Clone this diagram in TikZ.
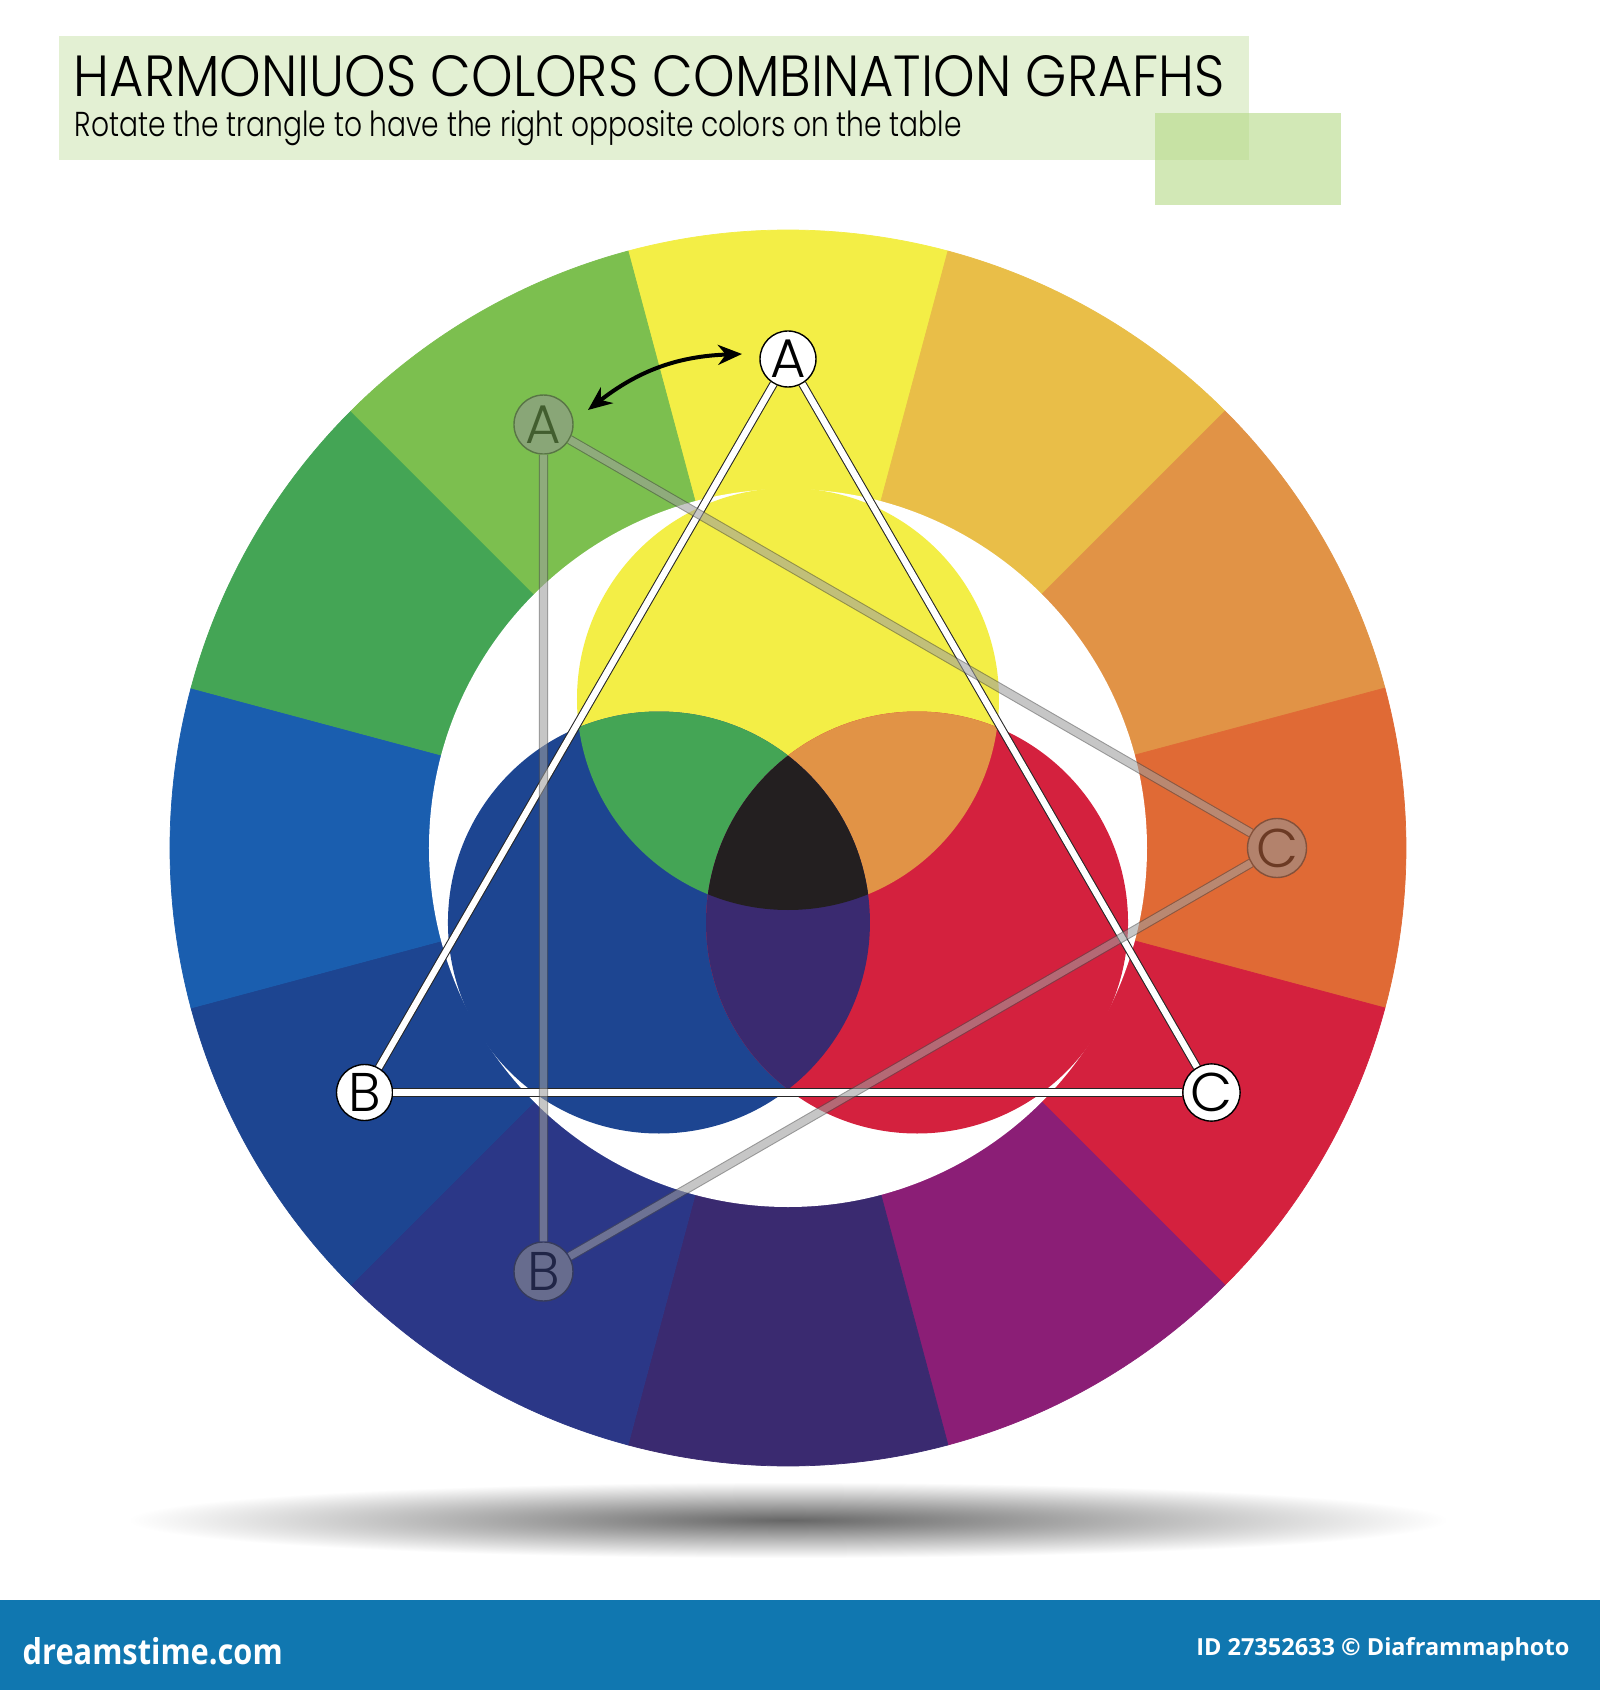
\documentclass[tikz,border=0pt]{standalone}
\usepackage{fontspec}
\usepackage{graphicx}
\setmainfont{Poppins Light}
\newfontfamily\bannerfont{Open Sans}
\usetikzlibrary{arrows.meta}

\definecolor{wyellow}{RGB}{243,238,70}
\definecolor{wyelloworange}{RGB}{233,190,72}
\definecolor{worange}{RGB}{225,147,70}
\definecolor{wredorange}{RGB}{224,106,53}
\definecolor{wred}{RGB}{212,33,62}
\definecolor{wredviolet}{RGB}{139,30,118}
\definecolor{wviolet}{RGB}{58,42,112}
\definecolor{wblueviolet}{RGB}{43,55,135}
\definecolor{wdarkblue}{RGB}{29,69,145}
\definecolor{wblue}{RGB}{26,94,175}
\definecolor{wgreen}{RGB}{68,165,85}
\definecolor{wyellowgreen}{RGB}{124,191,79}
\definecolor{mixblack}{RGB}{35,31,32}
\definecolor{titlebox}{RGB}{227,240,211}
\definecolor{tagbox}{RGB}{181,217,134}
\definecolor{banner}{RGB}{16,119,176}

\begin{document}
\begin{tikzpicture}[x=0.1mm, y=0.1mm,
    vertex/.style={circle, draw=black, line width=0.4pt, fill=white, minimum size=5.6mm,
        inner sep=0pt, font=\fontsize{15.5}{15.5}\selectfont},
    ghost/.style={circle, draw=black!75, line width=0.4pt, fill=black!42, minimum size=5.9mm,
        inner sep=0pt, text=black!90, font=\fontsize{15.5}{15.5}\selectfont},
    side/.style={draw=black!85, line width=0.3pt, double=white, double distance=1.8pt},
    ghostside/.style={draw=black!70, line width=0.3pt, double=black!38, double distance=2.1pt},
    turnarrow/.style={{Stealth[length=2.4mm,width=2mm]}-{Stealth[length=2.4mm,width=2mm]}, line width=0.4mm}]
    \fill[white] (-788,-842) rectangle (812,848);
    \useasboundingbox (-788,-842) rectangle (812,848);

    \fill[titlebox] (-729,812) rectangle (461,688);
    \fill[tagbox, opacity=0.6] (367,735) rectangle (553,643);
    \node[anchor=base west, inner sep=0pt] (title) at (-715,751)
        {\resizebox{115.1mm}{4.1mm}{HARMONIUOS COLORS COMBINATION GRAFHS}};
    \node[anchor=base west, inner sep=0pt] (subtitle) at (-714,711)
        {\resizebox{88.7mm}{2.6mm}{Rotate the trangle to have the right opposite colors on the table}};

    \shade[inner color=black!60, outer color=white] (0,-672) ellipse (660 and 38);

    \foreach \ang/\col in {90/wyellow, 60/wyelloworange, 30/worange, 0/wredorange,
        -30/wred, -60/wredviolet, -90/wviolet, -120/wblueviolet, -150/wdarkblue,
        180/wblue, 150/wgreen, 120/wyellowgreen}
        \fill[\col, draw=\col, line width=0.2pt] (0,0) -- ({\ang-15}:618)
            arc[start angle=\ang-15, end angle=\ang+15, radius=618] -- cycle;

    \coordinate (ycen) at (90:149);
    \coordinate (bcen) at (210:149);
    \coordinate (rcen) at (330:149);
    \fill[white] (0,0) circle (359);
    \fill[wyellow] (ycen) circle (211);
    \fill[wdarkblue] (bcen) circle (211);
    \fill[wred] (rcen) circle (211);
    \begin{scope}
        \clip (ycen) circle (211);
        \fill[wgreen] (bcen) circle (211);
        \fill[worange] (rcen) circle (211);
    \end{scope}
    \begin{scope}
        \clip (bcen) circle (211);
        \fill[wviolet] (rcen) circle (211);
        \clip (ycen) circle (211);
        \fill[mixblack] (rcen) circle (211);
    \end{scope}

    \node[vertex] (A) at (90:489) {A};
    \node[vertex] (B) at (210:489) {B};
    \node[vertex] (C) at (330:489) {C};
    \draw[side] (A) -- (B);
    \draw[side] (B) -- (C);
    \draw[side] (C) -- (A);

    \begin{scope}[transparency group, opacity=0.58]
        \node[ghost] (A2) at (120:489) {A};
        \node[ghost] (B2) at (240:489) {B};
        \node[ghost] (C2) at (0:489) {C};
        \draw[ghostside] (A2) -- (C2);
        \draw[ghostside] (C2) -- (B2);
        \draw[ghostside] (A2) -- (B2);
    \end{scope}

    \coordinate (turnstart) at (-200,438);
    \coordinate (turnend) at (-46,494);
    \draw[turnarrow] (turnstart) to[bend left=18] (turnend);

    \fill[banner] (-788,-752) rectangle (812,-842);
    \node[anchor=base west, inner sep=0pt, text=white] (site) at (-766,-816)
        {\resizebox{26mm}{2.7mm}{\bannerfont\bfseries dreamstime.com}};
    \node[anchor=base east, inner sep=0pt, text=white] (credit) at (782,-807)
        {\resizebox{37.3mm}{1.8mm}{\bannerfont\bfseries ID 27352633 © Diaframmaphoto}};
\end{tikzpicture}
\end{document}
